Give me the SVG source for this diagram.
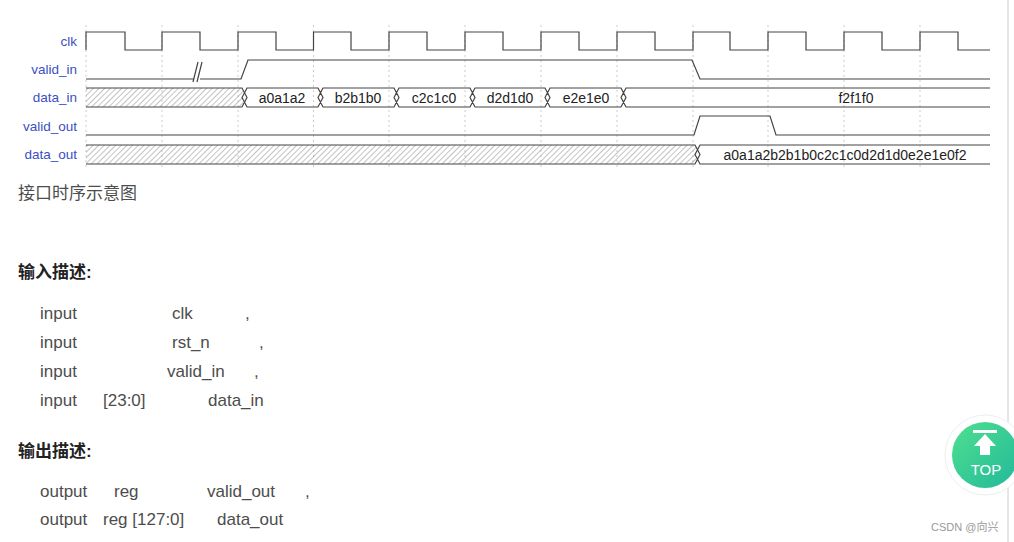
<svg xmlns="http://www.w3.org/2000/svg" width="1014" height="542" viewBox="0 0 1014 542">
<defs>
<pattern id="h" width="4" height="4" patternUnits="userSpaceOnUse" patternTransform="rotate(45)">
<line x1="0" y1="0" x2="0" y2="4" stroke="#888" stroke-width="1"/>
</pattern>
<linearGradient id="g" x1="0" y1="0" x2="1" y2="1"><stop offset="0" stop-color="#4fe08f"/><stop offset="1" stop-color="#22b89a"/></linearGradient>
</defs>
<style>
.lbl{font-family:"Liberation Sans",Arial,sans-serif;font-size:13.5px;fill:#3b4fc4;text-anchor:end}
.w{fill:none;stroke:#444;stroke-width:1.2}
.grid{stroke:#ccc;stroke-dasharray:2,3;stroke-width:1}
.dt{font-family:"Liberation Sans",Arial,sans-serif;font-size:14px;fill:#222;text-anchor:middle}
.t{font-family:"Liberation Sans","Noto Sans CJK SC",sans-serif;font-size:17px;fill:#4d4d4d}
.b{font-family:"Liberation Sans","Noto Sans CJK SC",sans-serif;font-size:17px;font-weight:bold;fill:#222}
</style>
<rect width="1014" height="542" fill="#fff"/>
<line x1="1008" y1="0" x2="1008" y2="542" stroke="#e6e6e6" stroke-width="2"/>
<g id="grid">
<line class="grid" x1="86" y1="25" x2="86" y2="168"/><line class="grid" x1="162" y1="25" x2="162" y2="168"/><line class="grid" x1="238" y1="25" x2="238" y2="168"/><line class="grid" x1="313.5" y1="25" x2="313.5" y2="168"/><line class="grid" x1="389" y1="25" x2="389" y2="168"/><line class="grid" x1="465" y1="25" x2="465" y2="168"/><line class="grid" x1="541" y1="25" x2="541" y2="168"/><line class="grid" x1="617" y1="25" x2="617" y2="168"/><line class="grid" x1="693" y1="25" x2="693" y2="168"/><line class="grid" x1="768" y1="25" x2="768" y2="168"/><line class="grid" x1="844" y1="25" x2="844" y2="168"/><line class="grid" x1="920" y1="25" x2="920" y2="168"/>
</g>
<g id="labels">
<text class="lbl" x="77" y="46">clk</text>
<text class="lbl" x="77" y="74">valid_in</text>
<text class="lbl" x="77" y="102">data_in</text>
<text class="lbl" x="77" y="131">valid_out</text>
<text class="lbl" x="77" y="159">data_out</text>
</g>
<g id="clk">
<path class="w" d="M86 50V32H125V50H162V32H200V50H238V32H276V50H313.5V32H351V50H389V32H427V50H465V32H503V50H541V32H579V50H617V32H655V50H693V32H730V50H768V32H806V50H844V32H882V50H920V32H958V50H990"/>
</g>
<g id="valid_in">
<path class="w" d="M86 79H194M200 79H241L248 60H692L700 79H990"/>
<path class="w" d="M193 82L198 62M197 82L202 62"/>
</g>
<g id="data_in">
<rect x="86" y="88" width="157" height="19" fill="url(#h)"/>
<path class="w" d="M86 88H242L247 97.5L242 107H86"/>
<path class="w" d="M242 97.5L247 88H318L323 97.5L318 107H247Z M318 97.5L323 88H394L399 97.5L394 107H323Z M394 97.5L399 88H470L475 97.5L470 107H399Z M470 97.5L475 88H545L550 97.5L545 107H475Z M545 97.5L550 88H621L626 97.5L621 107H550Z M990 88H626L621 97.5L626 107H990"/>
<text class="dt" x="282" y="102.5">a0a1a2</text>
<text class="dt" x="358" y="102.5">b2b1b0</text>
<text class="dt" x="434" y="102.5">c2c1c0</text>
<text class="dt" x="510" y="102.5">d2d1d0</text>
<text class="dt" x="586" y="102.5">e2e1e0</text>
<text class="dt" x="856" y="102.5">f2f1f0</text>
</g>
<g id="valid_out">
<path class="w" d="M86 135H694L700 116H770L776 135H990"/>
</g>
<g id="data_out">
<rect x="86" y="145" width="610" height="19" fill="url(#h)"/>
<path class="w" d="M86 145H695L700 154.5L695 164H86M990 145H700L695 154.5L700 164H990"/>
<text class="dt" x="845" y="159.5">a0a1a2b2b1b0c2c1c0d2d1d0e2e1e0f2</text>
</g>
<g id="text">
<text class="t" x="18" y="199">接口时序示意图</text>
<text class="b" x="18" y="278">输入描述:</text>
<text class="t" x="40" y="319">input</text><text class="t" x="172" y="319">clk</text><text class="t" x="245" y="319">,</text>
<text class="t" x="40" y="348">input</text><text class="t" x="172" y="348">rst_n</text><text class="t" x="259" y="348">,</text>
<text class="t" x="40" y="377">input</text><text class="t" x="167" y="377">valid_in</text><text class="t" x="254" y="377">,</text>
<text class="t" x="40" y="406">input</text><text class="t" x="103" y="406">[23:0]</text><text class="t" x="208" y="406">data_in</text>
<text class="b" x="18" y="457">输出描述:</text>
<text class="t" x="40" y="497">output</text><text class="t" x="114" y="497">reg</text><text class="t" x="207" y="497">valid_out</text><text class="t" x="305" y="497">,</text>
<text class="t" x="40" y="525">output</text><text class="t" x="103" y="525">reg [127:0]</text><text class="t" x="217" y="525">data_out</text>
</g>
<g id="top">
<circle cx="985" cy="455" r="40" fill="#fff" stroke="#eee"/>
<circle cx="985" cy="455" r="33" fill="url(#g)"/>
<rect x="973" y="430" width="24" height="3" fill="#fff"/>
<path d="M985 434L996 446H990V455H980V446H974Z" fill="#fff"/>
<text x="986" y="475" font-family="Liberation Sans,Arial,sans-serif" font-size="15" fill="#fff" text-anchor="middle">TOP</text>
</g>
<text x="931" y="531" font-family="Liberation Sans,'Noto Sans CJK SC',sans-serif" font-size="11" fill="#999">CSDN @向兴</text>
</svg>
